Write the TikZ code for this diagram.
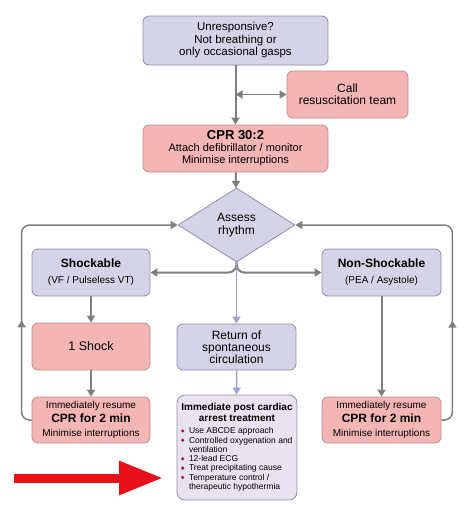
\documentclass[tikz,border=0pt]{standalone}
\usepackage{fontspec}
\setmainfont{Liberation Sans}
\usetikzlibrary{shapes.geometric, arrows.meta, decorations.markings}

\definecolor{lavfill}{HTML}{D5D3E7}
\definecolor{lavline}{HTML}{8F8DA6}
\definecolor{pinkfill}{HTML}{F4B5B5}
\definecolor{pinkline}{HTML}{C48C8C}
\definecolor{postfill}{HTML}{E9E3F1}
\definecolor{flowgray}{HTML}{7F7F7F}
\definecolor{rosclav}{HTML}{A19FCF}
\definecolor{bulletred}{HTML}{A8101C}
\definecolor{bigred}{HTML}{E8101A}

\tikzset{
  >={Triangle[length=7pt,width=8pt]},
  lavbox/.style={draw=lavline, fill=lavfill, line width=0.8pt, rounded corners=6pt, align=center, inner sep=0pt},
  pinkbox/.style={draw=pinkline, fill=pinkfill, line width=0.8pt, rounded corners=6pt, align=center, inner sep=0pt},
  flow/.style={draw=flowgray, line width=2pt, ->},
  rosclink/.style={draw=rosclav, line width=1.6pt, ->},
  loopline/.style={draw=flowgray, line width=1.5pt, rounded corners=8pt,
    postaction={decorate, decoration={markings, mark=at position #1 with {\arrow[flowgray]{>}}}}},
}

\newcommand{\bul}{\raisebox{0.25ex}{\tikz\fill[bulletred] (0,0) circle (1.7pt);}}
\newcommand{\bulitem}[1]{\hangindent=8pt\hangafter=1\noindent\makebox[8pt][l]{\bul}#1\par}
\newcommand{\postcontent}{%
  \begin{minipage}{112pt}
    \centering{\fontsize{10}{10.5}\selectfont\bfseries Immediate post cardiac\\ arrest treatment\par}
    \vspace{3pt}
    \raggedright\fontsize{8.5}{9.3}\selectfont
    \bulitem{Use ABCDE approach}
    \bulitem{Controlled oxygenation and\newline ventilation}
    \bulitem{12-lead ECG}
    \bulitem{Treat precipitating cause}
    \bulitem{Temperature control /\newline therapeutic hypothermia}
  \end{minipage}}

\begin{document}
\begin{tikzpicture}[x=1pt, y=-1pt]
        \useasboundingbox (0,0) rectangle (474,507);

        % Top of the chain
        \node[lavbox, minimum width=185pt, minimum height=49pt, font=\fontsize{11.5}{12.5}\selectfont]
            (unresp) at (235.5,40.5) {Unresponsive?\\ Not breathing or\\ only occasional gasps};
        \node[pinkbox, minimum width=121pt, minimum height=47pt, font=\fontsize{12}{12}\selectfont]
            (call) at (347.5,94.5) {Call\\ resuscitation team};
        \node[pinkbox, minimum width=185pt, minimum height=47pt, font=\fontsize{11}{12}\selectfont]
            (cpr) at (235.5,148.5) {{\fontsize{13}{13}\selectfont\bfseries CPR 30:2}\\ Attach defibrillator / monitor\\ Minimise interruptions};
        \node[diamond, draw=lavline, fill=lavfill, line width=0.8pt, inner sep=0pt, minimum width=117pt, minimum height=74pt,
            align=center, font=\fontsize{12}{13}\selectfont] (assess) at (236.5,225) {Assess\\ rhythm};

        % Shockable side
        \node[lavbox, minimum width=118pt, minimum height=47pt]
            (shockable) at (91,272.5) {{\fontsize{12}{14}\selectfont\bfseries Shockable}\\[4pt] {\fontsize{10}{12}\selectfont (VF / Pulseless VT)}};
        \node[pinkbox, minimum width=118pt, minimum height=47pt, font=\fontsize{12.5}{14}\selectfont]
            (shock) at (91,346.5) {1 Shock};
        \node[pinkbox, minimum width=118pt, minimum height=46pt, font=\fontsize{10}{14}\selectfont]
            (resumeL) at (91,420) {Immediately resume\\ {\fontsize{12}{14}\selectfont\bfseries CPR for 2 min}\\ Minimise interruptions};

        % Non-shockable side
        \node[lavbox, minimum width=119pt, minimum height=47pt]
            (nonshock) at (381.5,272.5) {{\fontsize{12}{14}\selectfont\bfseries Non-Shockable}\\[4pt] {\fontsize{10}{12}\selectfont (PEA / Asystole)}};
        \node[pinkbox, minimum width=119pt, minimum height=46pt, font=\fontsize{10}{14}\selectfont]
            (resumeR) at (381.5,420) {Immediately resume\\ {\fontsize{12}{14}\selectfont\bfseries CPR for 2 min}\\ Minimise interruptions};

        % ROSC branch
        \node[lavbox, minimum width=119pt, minimum height=46pt, font=\fontsize{12}{12}\selectfont]
            (rosc) at (236.5,347) {Return of\\ spontaneous\\ circulation};
        \node[draw=lavline, fill=postfill, line width=0.8pt, rounded corners=8pt, inner sep=0pt,
            minimum width=120pt, minimum height=105pt] (post) at (237,447.5) {\postcontent};

        % Main chain
        \coordinate (callj) at (unresp.south |- call.west);
        \draw[flow] (unresp) -- (cpr);
        \draw[draw=flowgray, line width=1.5pt, <->] (callj) -- (call);
        \draw[flow] (cpr) -- (assess);

        % Branches out of the rhythm check
        \draw[flow, rounded corners=8pt] (assess.south) |- (shockable.east);
        \draw[flow, rounded corners=8pt] (assess.south) |- (nonshock.west);
        \draw[rosclink] (assess.south) -- (rosc);
        \draw[rosclink] (rosc) -- (post);

        % Down each side
        \draw[flow] (shockable) -- (shock);
        \draw[flow] (shock) -- (resumeL);
        \draw[flow] (nonshock) -- (resumeR);

        % Loops back to the rhythm check
        \draw[loopline=0.3, ->] (resumeL.west) -- ++(-10,0) |- (assess.west);
        \draw[loopline=0.3, ->] (resumeR.east) -- ++(11,0) |- (assess.east);

        % Pointer
        \coordinate (redtail) at (14,478);
        \coordinate (redtip) at (163,478);
        \draw[bigred, line width=9pt, -{Triangle[length=44pt,width=32pt]}] (redtail) -- (redtip);
\end{tikzpicture}
\end{document}
